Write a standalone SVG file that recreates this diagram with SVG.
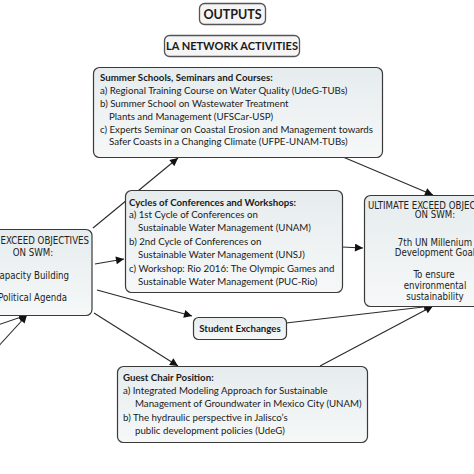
<svg xmlns="http://www.w3.org/2000/svg" width="474" height="474" viewBox="0 0 474 474">
<defs>
<linearGradient id="g" x1="0" y1="0" x2="0" y2="1">
<stop offset="0" stop-color="#e6ecee"/>
<stop offset="1" stop-color="#f6f8f8"/>
</linearGradient>
<marker id="ah" viewBox="0 0 10 10" refX="10" refY="5" markerWidth="9" markerHeight="8" markerUnits="userSpaceOnUse" orient="auto">
<path d="M0,0 L10,5 L0,10 z" fill="#111"/>
</marker>
<style>
.box{fill:url(#g);stroke:#3a3a3a;stroke-width:1.2}
.tbox{fill:#f5f5f5;stroke:#555;stroke-width:1.3}
.c{fill:none;stroke:#2a2a2a;stroke-width:1.1;marker-end:url(#ah)}
.t{font-family:Lato,"Open Sans",sans-serif;font-size:9.7px;fill:#1a1a1a}
.b{font-weight:bold}
.v{font-family:"DejaVu Sans Condensed","DejaVu Sans",sans-serif;font-size:9.6px;fill:#222}
.m{text-anchor:middle}
.e{text-anchor:end}
</style>
</defs>
<rect width="474" height="474" fill="#fff"/>
<g id="outputs">
<rect class="tbox" x="199.5" y="3.5" width="66" height="21" rx="5"/>
<text class="t b m" x="232.5" y="18.5" style="font-size:12.5px">OUTPUTS</text>
</g>
<g id="la-network">
<rect class="tbox" x="164.5" y="35.5" width="135" height="21" rx="5"/>
<text class="t b m" x="232" y="50" style="font-size:11px">LA NETWORK ACTIVITIES</text>
</g>
<g id="connectors">
<line class="c" x1="93" y1="228" x2="178" y2="158"/>
<line class="c" x1="343" y1="157" x2="433" y2="195"/>
<line class="c" x1="95" y1="264" x2="124" y2="259"/>
<line class="c" x1="342" y1="247" x2="363" y2="248"/>
<line class="c" x1="97" y1="290" x2="192" y2="316"/>
<line class="c" x1="286" y1="323" x2="432" y2="306"/>
<line class="c" x1="94" y1="313" x2="178" y2="366"/>
<line class="c" x1="320" y1="366" x2="433" y2="306"/>
<line class="c" x1="-5" y1="326" x2="27" y2="315"/>
<line class="c" x1="-5" y1="350" x2="27" y2="315"/>
</g>
<g id="summer">
<rect class="box" x="93.5" y="67.5" width="289" height="90" rx="6"/>
<text class="t b" x="100" y="80.5">Summer Schools, Seminars and Courses:</text>
<text class="t" x="100" y="93.5">a) Regional Training Course on Water Quality (UdeG-TUBs)</text>
<text class="t" x="100" y="106.5">b) Summer School on Wastewater Treatment</text>
<text class="t" x="109" y="119.5">Plants and Management (UFSCar-USP)</text>
<text class="t" x="100" y="132.5">c) Experts Seminar on Coastal Erosion and Management towards</text>
<text class="t" x="109" y="145">Safer Coasts in a Changing  Climate (UFPE-UNAM-TUBs)</text>
</g>
<g id="cycles">
<rect class="box" x="125.5" y="190.5" width="217" height="102" rx="6"/>
<text class="t b" x="129" y="205.5">Cycles of Conferences and Workshops:</text>
<text class="t" x="129" y="218">a) 1st Cycle of Conferences on</text>
<text class="t" x="138" y="231">Sustainable Water Management (UNAM)</text>
<text class="t" x="129" y="244.5">b) 2nd Cycle of Conferences on</text>
<text class="t" x="138" y="257.5">Sustainable Water Management (UNSJ)</text>
<text class="t" x="129" y="271.5">c) Workshop: Rio 2016: The Olympic Games and</text>
<text class="t" x="138" y="284.5">Sustainable Water Management (PUC-Rio)</text>
</g>
<g id="exceed">
<rect class="box" x="-40" y="229.5" width="132" height="86" rx="6"/>
<text class="v e" x="89" y="244">EXCEED OBJECTIVES</text>
<text class="v m" x="33" y="255.5">ON SWM:</text>
<text class="v e" x="69" y="278.5">Capacity Building</text>
<text class="v e" x="67" y="300.5">Political Agenda</text>
</g>
<g id="ultimate">
<rect class="box" x="364.5" y="195.5" width="150" height="111" rx="6"/>
<text class="v" x="368" y="208.5">ULTIMATE EXCEED OBJECTIVES</text>
<text class="v m" x="435" y="218">ON SWM:</text>
<text class="v m" x="435" y="245.5">7th UN Millenium</text>
<text class="v m" x="435" y="255.5">Development Goal</text>
<text class="v m" x="434" y="278">To ensure</text>
<text class="v m" x="435" y="289">environmental</text>
<text class="v m" x="435" y="300">sustainability</text>
</g>
<g id="student">
<rect class="box" x="193.5" y="317.5" width="93" height="22" rx="5"/>
<text class="t b m" x="240" y="332">Student Exchanges</text>
</g>
<g id="guest">
<rect class="box" x="117.5" y="366.5" width="250" height="76" rx="6"/>
<text class="t b" x="123" y="380.5">Guest Chair Position:</text>
<text class="t" x="123" y="393.5">a) Integrated Modeling Approach for Sustainable</text>
<text class="t" x="135" y="407">Management of Groundwater in Mexico City (UNAM)</text>
<text class="t" x="123" y="420.5">b) The hydraulic perspective in Jalisco’s</text>
<text class="t" x="135" y="434">public development policies (UdeG)</text>
</g>
</svg>
